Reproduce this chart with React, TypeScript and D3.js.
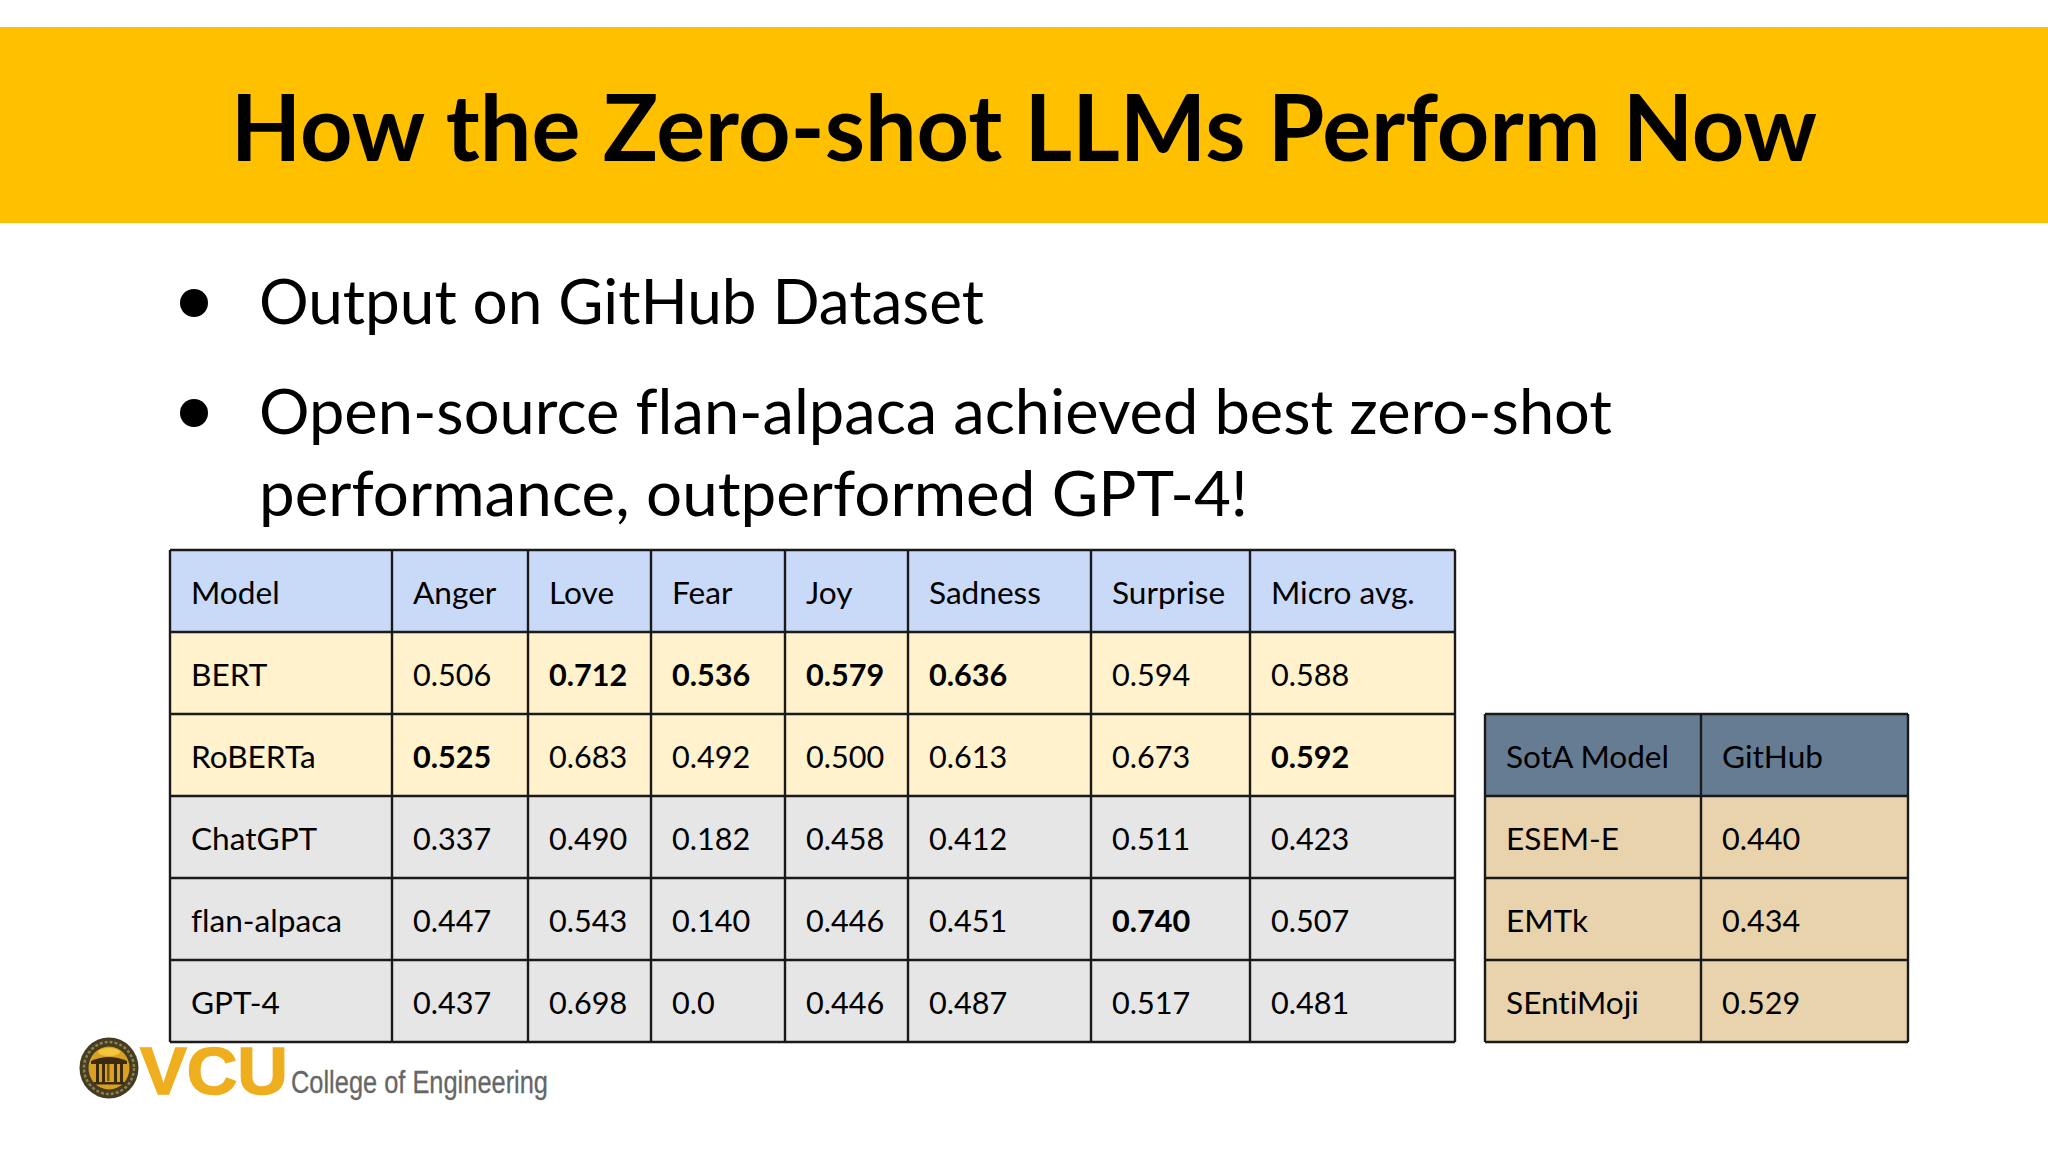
import * as React from 'react';
import * as d3 from 'd3';

const columns = ['Model', 'Anger', 'Love', 'Fear', 'Joy', 'Sadness', 'Surprise', 'Micro avg.'];
const models = ['BERT', 'RoBERTa', 'ChatGPT', 'flan-alpaca', 'GPT-4'];
const bert = ['0.506', '0.712', '0.536', '0.579', '0.636', '0.594', '0.588'];
const roberta = ['0.525', '0.683', '0.492', '0.500', '0.613', '0.673', '0.592'];
const chatgpt = ['0.337', '0.490', '0.182', '0.458', '0.412', '0.511', '0.423'];
const flanAlpaca = ['0.447', '0.543', '0.140', '0.446', '0.451', '0.740', '0.507'];
const gpt4 = ['0.437', '0.698', '0.0', '0.446', '0.487', '0.517', '0.481'];
const scores = [bert, roberta, chatgpt, flanAlpaca, gpt4];
// "model|column" for the cells that are bold in the slide
const bestCells = ['BERT|Love', 'BERT|Fear', 'BERT|Joy', 'BERT|Sadness', 'RoBERTa|Anger', 'RoBERTa|Micro avg.', 'flan-alpaca|Surprise'];

const sotaColumns = ['SotA Model', 'GitHub'];
const sotaModels = ['ESEM-E', 'EMTk', 'SEntiMoji'];
const sotaScores = ['0.440', '0.434', '0.529'];

const FONT = 'Lato, sans-serif';

type TableProps = {
  cols: string[];
  rows: string[][];
  colEdges: number[];
  top: number;
  bottom: number;
  rowFill: (i: number) => string;
  headFill: string;
  isBold?: (row: string, col: string) => boolean;
};

const Table: React.FC<TableProps> = ({ cols, rows, colEdges, top, bottom, rowFill, headFill, isBold }) => {
  const y = d3.scaleBand<number>().domain(d3.range(rows.length + 1)).range([top, bottom]);
  const x = d3.scaleOrdinal<string, number>().domain(cols).range(colEdges);
  const right = colEdges[colEdges.length - 1];
  const left = colEdges[0];
  const h = y.bandwidth();
  const textX = (c: string) => x(c) + 21;
  // digits run a bit wide in Lato, letters a bit narrow
  const sizeOf = (s: string) => (/^[\d.]+$/.test(s) ? 30.6 : 31.6);
  return (
    <g fontFamily={FONT} fill="#000" style={{ fontVariantLigatures: 'none' }}>
      <rect x={left} y={y(0)} width={right - left} height={h} fill={headFill} />
      {rows.map((_, i) => (
        <rect key={i} x={left} y={y(i + 1)} width={right - left} height={h} fill={rowFill(i)} />
      ))}
      {cols.map((c) => (
        <text key={c} x={textX(c)} y={y(0)! + h / 2 + 13} fontSize={sizeOf(c)}>{c}</text>
      ))}
      {rows.map((row, i) =>
        row.map((cell, j) => (
          <text
            key={j}
            x={textX(cols[j])}
            y={y(i + 1)! + h / 2 + 13}
            fontSize={sizeOf(cell)}
            fontWeight={isBold && isBold(row[0], cols[j]) ? 700 : 400}
          >
            {cell}
          </text>
        ))
      )}
      <g stroke="#1a1a1a" strokeWidth={2.4} fill="none">
        {d3.range(rows.length + 2).map((i) => (
          <line key={i} x1={left} x2={right} y1={top + i * h} y2={top + i * h} />
        ))}
        {colEdges.map((e) => <line key={e} x1={e} x2={e} y1={top} y2={bottom} />)}
      </g>
    </g>
  );
};

const Seal = () => {
  const pillars = [-13, -7, 5, 11];
  return (
    <g transform="translate(109,1068)" filter="url(#soft)">
      <ellipse rx={29.5} ry={30.5} fill="#453c24" />
      <ellipse rx={25} ry={26} fill="none" stroke="#8f7f4a" strokeWidth={2.5} strokeDasharray="3 2" />
      <ellipse rx={20.5} ry={21.5} fill="#d9a022" />
      <path d="M-18,-7 Q0,-15 18,-7 L18,-4 L-18,-4 Z" fill="#3a2c10" />
      <ellipse cy={-16} rx={11} ry={4} fill="#f3c63a" />
      {pillars.map((p) => (
        <rect key={p} x={p} y={-4} width={3} height={19} fill="#3a2c10" />
      ))}
      <rect x={-2} y={-4} width={2.5} height={17} fill="#6b5218" />
      <rect x={-15} y={14} width={30} height={2.5} fill="#3a2c10" />
    </g>
  );
};

export default function App() {
  const mainRows = models.map((m, i) => [m, ...scores[i]]);
  const sotaRows = sotaModels.map((m, i) => [m, sotaScores[i]]);
  return (
    <svg
      width={2048}
      height={1152}
      viewBox="0 0 2048 1152"
      style={{ position: 'absolute', left: 0, top: 0, display: 'block' }}
    >
      <defs>
        <filter id="soft" x="-10%" y="-10%" width="120%" height="120%">
          <feGaussianBlur stdDeviation={0.7} />
        </filter>
      </defs>
      <rect width={2048} height={1152} fill="#fff" />
      <rect x={0} y={27} width={2048} height={196} fill="#FFC000" />
      <text x={1024} y={161} textAnchor="middle" fontFamily={FONT} fontWeight={700} fontSize={91.6} fill="#000">
        How the Zero-shot LLMs Perform Now
      </text>

      <g fontFamily={FONT} fontSize={62} fill="#000" style={{ fontVariantLigatures: 'none' }}>
        <circle cx={194} cy={303} r={14} />
        <text x={259} y={324} textLength={725} lengthAdjust="spacingAndGlyphs">Output on GitHub Dataset</text>
        <circle cx={194} cy={413} r={14} />
        <text x={259} y={434} textLength={1353} lengthAdjust="spacingAndGlyphs">Open-source flan-alpaca achieved best zero-shot</text>
        <text x={259} y={516} textLength={989} lengthAdjust="spacingAndGlyphs">performance, outperformed GPT-4!</text>
      </g>

      <Table
        cols={columns}
        rows={mainRows}
        colEdges={[170, 392, 528, 651, 785, 908, 1091, 1250, 1455]}
        top={550}
        bottom={1042}
        headFill="#C9DAF8"
        rowFill={(i) => (i < 2 ? '#FFF2CC' : '#E6E6E6')}
        isBold={(m, c) => bestCells.includes(`${m}|${c}`)}
      />
      <Table
        cols={sotaColumns}
        rows={sotaRows}
        colEdges={[1485, 1701, 1908]}
        top={714}
        bottom={1042}
        headFill="#667C93"
        rowFill={() => '#E8D3AC'}
      />

      <Seal />
      <text x={140} y={1094} fontFamily="Liberation Sans, Arial, sans-serif" fontWeight={700} fontSize={67} fill="#EFAE1E" stroke="#EFAE1E" strokeWidth={1.5} textLength={148} lengthAdjust="spacingAndGlyphs">VCU</text>
      <text x={291} y={1093} fontFamily="Liberation Sans, Arial, sans-serif" fontSize={31} fill="#666" stroke="#666" strokeWidth={0.3} textLength={257} lengthAdjust="spacingAndGlyphs">College of Engineering</text>
    </svg>
  );
}
